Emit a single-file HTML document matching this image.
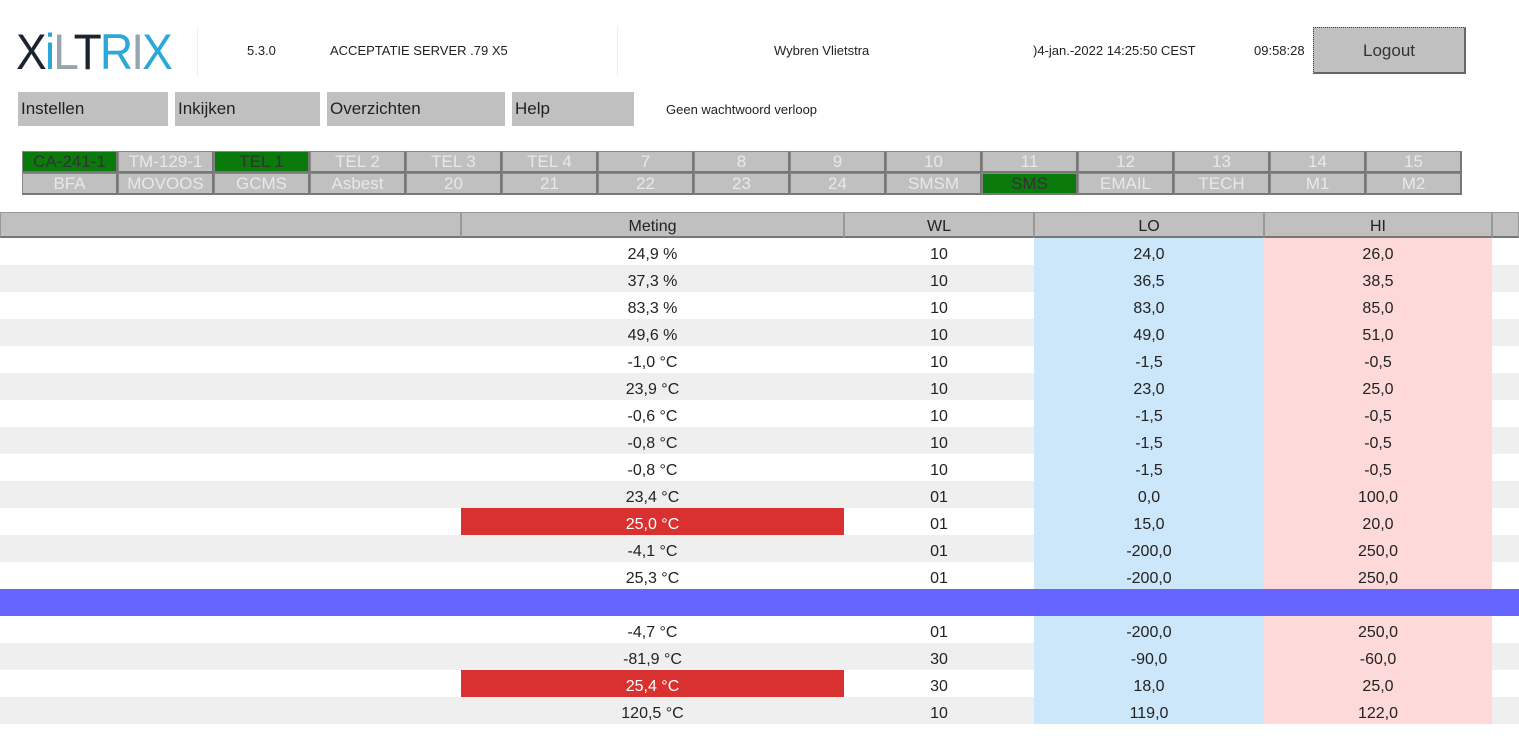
<!DOCTYPE html>
<html><head><meta charset="utf-8"><style>
*{margin:0;padding:0;box-sizing:border-box}
body{width:1519px;height:744px;background:#fff;font-family:"Liberation Sans",sans-serif;position:relative;overflow:hidden;color:#222}
.a{position:absolute;white-space:nowrap}
.menu{position:absolute;top:92px;height:34px;background:#c0c0c0;font-size:17px;line-height:34px;padding-left:3px;color:#222}
.tab{position:absolute;width:96px;height:22px;background:#c0c0c0;border:1px solid #888;border-right:2px solid #777;border-bottom:2px solid #777;color:#e8e8e8;font-size:17px;text-align:center;line-height:19px}
.tab.g{background:#0a7a0a;color:#333}
.th{position:absolute;top:212px;height:26px;background:#c0c0c0;border:1px solid #999;border-bottom:2px solid #777;font-size:16px;text-align:center;line-height:28px}
.row{position:absolute;left:0;width:1519px;height:27px;font-size:16px;line-height:33px}
.row div{position:absolute;top:0;height:27px;text-align:center}
</style></head><body>
<div class="a" style="left:16px;top:24px;font-size:50px;letter-spacing:-2px;line-height:56px;font-weight:300;transform:scaleX(0.92);transform-origin:left"><span style="color:#1a2530">X</span><span style="color:#2aa8d8">i</span><span style="color:#9aa4ae">L</span><span style="color:#1a2530">T</span><span style="color:#2aa8d8">R</span><span style="color:#9aa4ae">I</span><span style="color:#2aa8d8">X</span></div>
<div class="a" style="left:197px;top:26px;width:1px;height:50px;background:#eee"></div>
<div class="a" style="left:247px;top:43px;font-size:13px">5.3.0</div>
<div class="a" style="left:330px;top:43px;font-size:13px">ACCEPTATIE SERVER .79 X5</div>
<div class="a" style="left:617px;top:26px;width:1px;height:50px;background:#eee"></div>
<div class="a" style="left:774px;top:43px;font-size:13px">Wybren Vlietstra</div>
<div class="a" style="left:1033px;top:43px;font-size:13px">)4-jan.-2022 14:25:50 CEST</div>
<div class="a" style="left:1254px;top:43px;font-size:13px">09:58:28</div>
<div class="a" style="left:1313px;top:27px;width:153px;height:47px;background:#c0c0c0;border:1px dotted #333;border-right:2px solid #666;border-bottom:2px solid #666;font-size:17px;text-align:center;line-height:46px;color:#333">Logout</div>
<div class="menu" style="left:18px;width:150px">Instellen</div>
<div class="menu" style="left:175px;width:145px">Inkijken</div>
<div class="menu" style="left:327px;width:178px">Overzichten</div>
<div class="menu" style="left:512px;width:122px">Help</div>
<div class="a" style="left:666px;top:102px;font-size:13px">Geen wachtwoord verloop</div>
<div id="tabs"></div>
<div class="th" style="left:0;width:461px"></div>
<div class="th" style="left:461px;width:383px">Meting</div>
<div class="th" style="left:844px;width:190px">WL</div>
<div class="th" style="left:1034px;width:230px">LO</div>
<div class="th" style="left:1264px;width:228px">HI</div>
<div class="th" style="left:1492px;width:27px"></div>
<div id="rows"></div>
<script>
var t1=["CA-241-1","TM-129-1","TEL 1","TEL 2","TEL 3","TEL 4","7","8","9","10","11","12","13","14","15"];
var t2=["BFA","MOVOOS","GCMS","Asbest","20","21","22","23","24","SMSM","SMS","EMAIL","TECH","M1","M2"];
var h="";
for(var i=0;i<15;i++){
h+='<div class="tab'+((i==0||i==2)?' g':'')+'" style="left:'+(22+i*96)+'px;top:151px">'+t1[i]+'</div>';
h+='<div class="tab'+(i==10?' g':'')+'" style="left:'+(22+i*96)+'px;top:173px">'+t2[i]+'</div>';}
document.getElementById("tabs").innerHTML=h;
var d=[["24,9 %","10","24,0","26,0"],["37,3 %","10","36,5","38,5"],["83,3 %","10","83,0","85,0"],["49,6 %","10","49,0","51,0"],["-1,0 °C","10","-1,5","-0,5"],["23,9 °C","10","23,0","25,0"],["-0,6 °C","10","-1,5","-0,5"],["-0,8 °C","10","-1,5","-0,5"],["-0,8 °C","10","-1,5","-0,5"],["23,4 °C","01","0,0","100,0"],["25,0 °C","01","15,0","20,0",1],["-4,1 °C","01","-200,0","250,0"],["25,3 °C","01","-200,0","250,0"],null,["-4,7 °C","01","-200,0","250,0"],["-81,9 °C","30","-90,0","-60,0"],["25,4 °C","30","18,0","25,0",1],["120,5 °C","10","119,0","122,0"]];
h="";
for(var r=0;r<d.length;r++){var y=238+r*27;
if(!d[r]){h+='<div class="row" style="top:'+y+'px;background:#6666ff"></div>';continue;}
var x=d[r];
h+='<div class="row" style="top:'+y+'px;background:'+(r%2?'#efefef':'#fff')+'">'+
'<div style="left:461px;width:383px;'+(x[4]?'background:#d93030;color:#fff':'')+'">'+x[0]+'</div>'+
'<div style="left:844px;width:190px">'+x[1]+'</div>'+
'<div style="left:1034px;width:230px;background:#cce6fa">'+x[2]+'</div>'+
'<div style="left:1264px;width:228px;background:#fdd9d9">'+x[3]+'</div></div>';}
document.getElementById("rows").innerHTML=h;
</script>
</body></html>
